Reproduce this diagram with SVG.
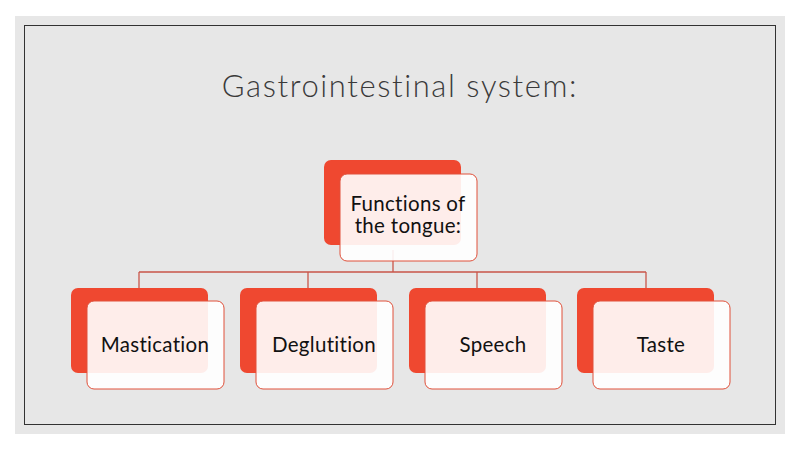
<svg xmlns="http://www.w3.org/2000/svg" width="800" height="450" viewBox="0 0 800 450">
<style>
.back{fill:#ef4830}
.front{fill:#ffffff;fill-opacity:0.9;stroke:#e0503a;stroke-width:1}
.lbl{font-family:Lato,"Open Sans",sans-serif;font-size:20.5px;fill:#111;text-anchor:middle;letter-spacing:0.3px}
.con{stroke:#c9564a;stroke-width:1.3;fill:none}
</style>
<rect x="0" y="0" width="800" height="450" fill="#ffffff"/>
<rect x="15" y="16" width="770" height="418" fill="#e7e7e7"/>
<rect x="24.5" y="25.5" width="751" height="399" fill="none" stroke="#333" stroke-width="1"/>
<text x="400" y="97" font-family="Lato,'Open Sans',sans-serif" font-weight="300" font-size="31" fill="#3a3a3a" text-anchor="middle" letter-spacing="1.6">Gastrointestinal system:</text>
<g id="connectors">
<path class="con" d="M393 250V272M139 272H646M139 272V288M308 272V288M477 272V288M646 272V288"/>
</g>
<g id="root">
<rect class="back" x="324" y="160" width="137" height="85" rx="7"/>
<rect class="front" x="340" y="174" width="137" height="87" rx="7"/>
<text class="lbl" x="408" y="211">Functions of</text>
<text class="lbl" x="408" y="233">the tongue:</text>
</g>
<g id="mastication">
<rect class="back" x="71" y="288" width="137" height="85" rx="7"/>
<rect class="front" x="87" y="301" width="137" height="88" rx="7"/>
<text class="lbl" x="155" y="352">Mastication</text>
</g>
<g id="deglutition">
<rect class="back" x="240" y="288" width="137" height="85" rx="7"/>
<rect class="front" x="256" y="301" width="137" height="88" rx="7"/>
<text class="lbl" x="324" y="352">Deglutition</text>
</g>
<g id="speech">
<rect class="back" x="409" y="288" width="137" height="85" rx="7"/>
<rect class="front" x="425" y="301" width="137" height="88" rx="7"/>
<text class="lbl" x="493" y="352">Speech</text>
</g>
<g id="taste">
<rect class="back" x="577" y="288" width="137" height="85" rx="7"/>
<rect class="front" x="593" y="301" width="137" height="88" rx="7"/>
<text class="lbl" x="661" y="352">Taste</text>
</g>
</svg>
